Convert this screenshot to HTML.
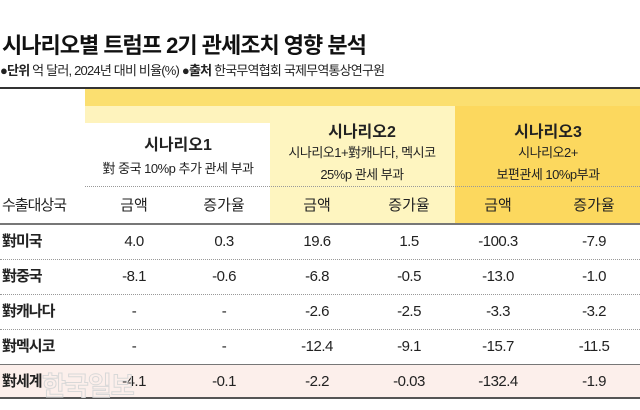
<!DOCTYPE html>
<html><head><meta charset="utf-8">
<style>
body{margin:0;width:640px;height:410px;background:#fff;position:relative;overflow:hidden;font-family:"Liberation Sans","Noto Sans CJK KR",sans-serif;color:#222}
div{position:absolute}
.c{transform:translateX(-50%);white-space:nowrap;text-align:center}
.t{font-size:15px;line-height:18px}
.b{font-weight:bold}
.rl{left:2px;font-size:15px;font-weight:bold;line-height:18px;letter-spacing:-1px;white-space:nowrap}
.dot{left:0;width:640px;height:0;border-top:1px dotted #999}
</style></head><body>
<div style="left:2px;top:28px;font-size:22px;font-weight:bold;letter-spacing:-1px;color:#111;white-space:nowrap">시나리오별 트럼프 2기 관세조치 영향 분석</div>
<div style="left:0;top:60px;font-size:13px;letter-spacing:-0.8px;white-space:nowrap"><b>●단위</b> 억 달러, 2024년 대비 비율(%) <b>●출처</b> 한국무역협회 국제무역통상연구원</div>
<div style="left:0;top:87px;width:640px;height:2px;background:#333"></div>
<div style="left:85px;top:89px;width:555px;height:17px;background:#fbdf70"></div>
<div style="left:85px;top:106px;width:185px;height:17px;background:#fef3bd"></div>
<div style="left:270px;top:106px;width:185px;height:118px;background:#fef5c0"></div>
<div style="left:455px;top:106px;width:185px;height:118px;background:#fcd85e"></div>
<div style="left:0;top:365px;width:640px;height:33px;background:#fcefeb"></div>

<div class="c b" style="left:178px;top:131px;font-size:16px">시나리오1</div>
<div class="c" style="left:178px;top:158px;font-size:13px;letter-spacing:-0.5px">對 중국 10%p 추가 관세 부과</div>
<div class="c b" style="left:362px;top:118px;font-size:16px">시나리오2</div>
<div class="c" style="left:362px;top:142px;font-size:13px;line-height:22px;letter-spacing:-0.5px">시나리오1+對캐나다, 멕시코<br>25%p 관세 부과</div>
<div class="c b" style="left:548px;top:118px;font-size:16px">시나리오3</div>
<div class="c" style="left:548px;top:142px;font-size:13px;line-height:22px;letter-spacing:-0.5px">시나리오2+<br>보편관세 10%p부과</div>

<div class="dot" style="left:85px;width:555px;top:186px"></div>
<div class="t" style="left:2px;top:197px;letter-spacing:-1px;white-space:nowrap">수출대상국</div>
<div id="hdr"></div>
<div style="left:0;top:223px;width:640px;height:2px;background:#777"></div>
<div id="body"></div>
<div style="left:0;top:364px;width:640px;height:1px;background:#777"></div>
<div style="left:0;top:397px;width:640px;height:2px;background:#555"></div>
<div style="left:42px;top:366px;font-size:26px;font-weight:bold;color:transparent;-webkit-text-stroke:1px #d8d8d8;letter-spacing:-1px;white-space:nowrap">한국일보</div>

<script>
const countries=["對미국","對중국","對캐나다","對멕시코","對세계"];
const s1Amount=["4.0","-8.1","-","-","-4.1"];
const s1Rate=["0.3","-0.6","-","-","-0.1"];
const s2Amount=["19.6","-6.8","-2.6","-12.4","-2.2"];
const s2Rate=["1.5","-0.5","-2.5","-9.1","-0.03"];
const s3Amount=["-100.3","-13.0","-3.3","-15.7","-132.4"];
const s3Rate=["-7.9","-1.0","-3.2","-11.5","-1.9"];
const colHeaders=["금액","증가율","금액","증가율","금액","증가율"];
const cols=[s1Amount,s1Rate,s2Amount,s2Rate,s3Amount,s3Rate];
const colX=[134,224,317,409,498,594];
const rowTop=224,rowH=35;
const hdr=document.getElementById('hdr');
colHeaders.forEach((h,i)=>{
  const d=document.createElement('div');
  d.className='c t';
  d.style.left=colX[i]+'px';d.style.top='197px';
  d.textContent=h;
  
  
  hdr.appendChild(d);
});
const body=document.getElementById('body');
countries.forEach((c,r)=>{
  const y=rowTop+r*rowH+9;
  const l=document.createElement('div');
  l.className='rl';l.style.top=y+'px';l.textContent=c;
  
  
  body.appendChild(l);
  cols.forEach((arr,i)=>{
    const d=document.createElement('div');
    d.className='c t';d.style.left=colX[i]+'px';d.style.top=y+'px';
    d.style.letterSpacing='-0.5px';
    d.textContent=arr[r];
    
    
    body.appendChild(d);
  });
  if(r>0&&r<4){
    const s=document.createElement('div');
    s.className='dot';s.style.top=(rowTop+r*rowH)+'px';
    
    
    body.appendChild(s);
  }
});
</script>
</body></html>
